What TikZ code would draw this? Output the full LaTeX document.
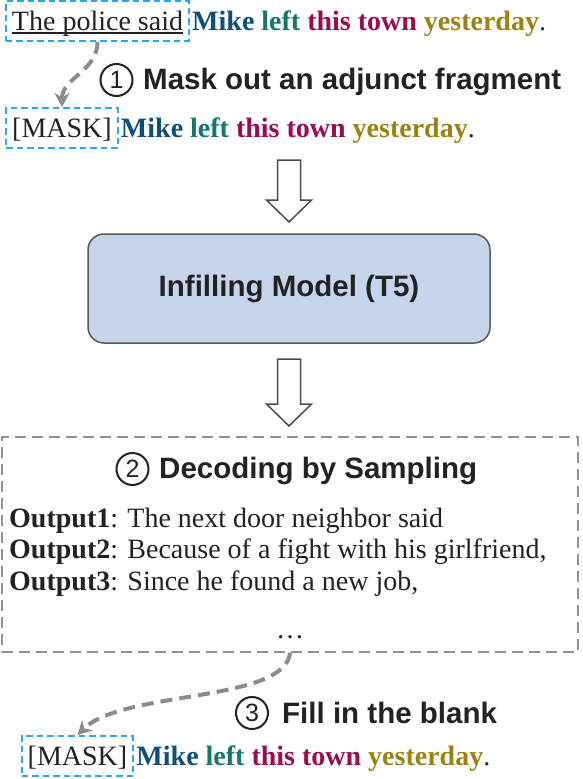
\documentclass[tikz,border=0pt]{standalone}
\usepackage{fontspec}
\setmainfont{Liberation Serif}
\setsansfont{Liberation Sans}
\usepackage{tikz}
\usetikzlibrary{arrows.meta}
\usetikzlibrary{positioning}
\usetikzlibrary{calc}

\definecolor{mikeblue}{HTML}{0E4F7A}
\definecolor{leftgreen}{HTML}{137869}
\definecolor{towncrimson}{HTML}{990C52}
\definecolor{yestgold}{HTML}{9C8212}
\definecolor{maskblue}{HTML}{2AA7EA}
\definecolor{flowgray}{HTML}{8C8C8C}
\definecolor{sampgray}{HTML}{929292}
\definecolor{modelfill}{HTML}{C6D4EC}
\definecolor{inkdark}{HTML}{222222}

\newcommand{\serifsize}{\fontsize{28}{32}\selectfont}
\newcommand{\headsize}{\fontsize{29.5}{34}\selectfont}
\newcommand{\mikesent}{\textbf{\textcolor{mikeblue}{Mike} \textcolor{leftgreen}{left} \textcolor{towncrimson}{this town} \textcolor{yestgold}{yesterday}}.}

\begin{document}
\begin{tikzpicture}[x=1pt,y=-1pt,
    maskbox/.style={draw=maskblue,line width=2pt,dash pattern=on 6.5pt off 4pt,
      inner xsep=6pt,inner ysep=5pt,text height=24pt,text depth=6pt,
      font=\serifsize,text=inkdark,anchor=base},
    sentence/.style={inner sep=0pt,font=\serifsize,text=inkdark,anchor=base west},
    stepnum/.style={circle,draw=inkdark,line width=2pt,minimum size=32pt,inner sep=0pt,
      font=\sffamily\fontsize{25}{25}\selectfont,text=inkdark},
    steptitle/.style={inner sep=0pt,font=\sffamily\bfseries\headsize,text=inkdark,anchor=base west},
    model/.style={draw=black!65,fill=modelfill,line width=1.5pt,rounded corners=16pt,
      minimum width=402pt,minimum height=109pt,font=\sffamily\bfseries\headsize,text=inkdark},
    hollow/.style={draw=black!70,fill=white,line width=1.5pt,line join=miter},
    sampbox/.style={draw=sampgray,line width=1.6pt,dash pattern=on 11pt off 6pt,
      minimum width=576pt,minimum height=215pt},
    outtext/.style={inner sep=0pt,font=\serifsize,text=inkdark,anchor=base west},
    flow/.style={draw=flowgray,line width=4pt,dash pattern=on 12pt off 7pt,
      -{Stealth[length=14pt,width=15pt]}}]
    \useasboundingbox (0,0) rectangle (582,779);

    % step 1
    \node[maskbox] (police) at (97.5,30) {The police said};
    \draw[line width=1.2pt,inkdark] ([xshift=7pt,yshift=-3pt]police.base west) -- ([xshift=-7pt,yshift=-3pt]police.base east);
    \node[sentence] (sent1) at ([xshift=2pt]police.base east) {\mikesent};
    \node[stepnum] (num1) at (116.5,80) {1};
    \node[steptitle] (title1) at (143,89) {Mask out an adjunct fragment};
    \node[maskbox] (mask1) at (62,137) {[MASK]};
    \node[sentence] (sent2) at ([xshift=2pt]mask1.base east) {\mikesent};
    \draw[flow] (police.south) to[out=-90,in=90] (mask1.north);

    % model
    \node[model] (model) at (289,288.5) {Infilling Model (T5)};
    \foreach \ya/\len in {160/62,359/67}{
      \draw[hollow] (277.5,\ya) -- (300.5,\ya) -- (300.5,\ya+\len-22) -- (311.5,\ya+\len-22)
        -- (289,\ya+\len) -- (266.5,\ya+\len-22) -- (277.5,\ya+\len-22) -- cycle;
    }

    % step 2
    \node[sampbox] (samp) at (290,544.5) {};
    \node[stepnum] (num2) at (132.5,469) {2};
    \node[steptitle] (title2) at (159,478) {Decoding by Sampling};
    \foreach \i/\y/\txt in {1/527/{The next door neighbor said},
                            2/558/{Because of a fight with his girlfriend,},
                            3/590/{Since he found a new job,}}{
      \node[outtext] (out\i) at (9,\y) {\textbf{Output\i}: \txt};
    }
    \node[sentence,anchor=base] (dots) at (290,638) {\ldots};

    % step 3
    \node[stepnum] (num3) at (252,713) {3};
    \node[steptitle] (title3) at (282,723) {Fill in the blank};
    \node[maskbox] (mask3) at (77.5,765) {[MASK]};
    \node[sentence] (sent3) at ([xshift=2pt]mask3.base east) {\mikesent};
    \draw[flow] (samp.south) .. controls +(-5,50) and +(45,-45) .. (mask3.north);
\end{tikzpicture}
\end{document}
